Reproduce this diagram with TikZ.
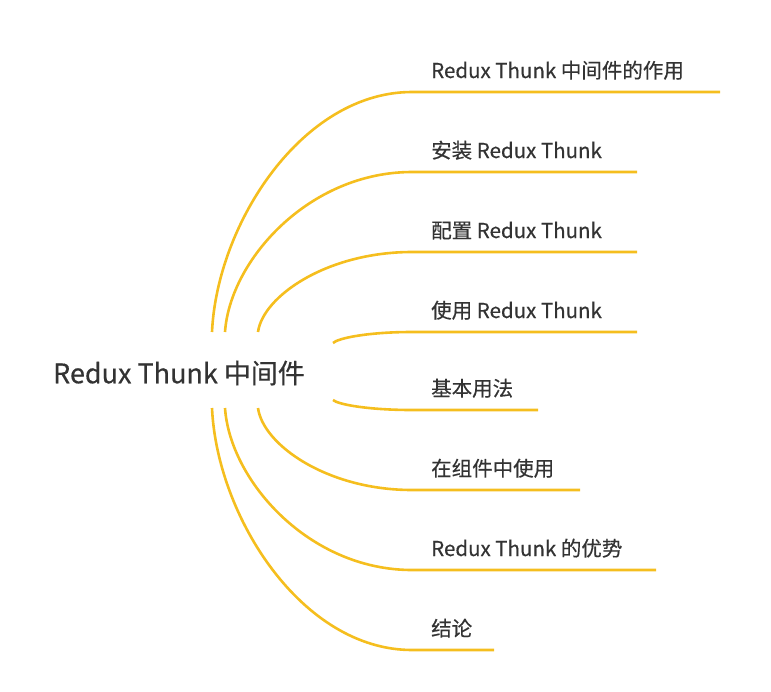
\documentclass[tikz,border=0pt]{standalone}
\usepackage{fontspec}
\setmainfont{Noto Sans CJK SC}[FakeBold=0.4]
\definecolor{br}{HTML}{F5BE1E}
\definecolor{tx}{HTML}{333333}
\begin{document}
\begin{tikzpicture}[x=1pt,y=-1pt,
  br/.style={draw=br,line width=2.6pt},
  lab/.style={anchor=base west,text=tx,font=\fontsize{20.5}{24}\selectfont,inner sep=0pt}]
\useasboundingbox (0,0) rectangle (771,691);
\node[text=tx,font=\fontsize{27}{32}\selectfont,inner sep=0pt] (root) at (179,373) {Redux Thunk 中间件};
\foreach \i/\y/\xe/\xs/\ys/\t in {
 a/92/720/212/332/{Redux Thunk 中间件的作用},
 b/172/637/225/332/{安装 Redux Thunk},
 c/252/637/258/332/{配置 Redux Thunk},
 d/332/637/333/343/{使用 Redux Thunk},
 e/410/538/333/400/{基本用法},
 f/490/580/258/408/{在组件中使用},
 g/570/656/225/408/{Redux Thunk 的优势},
 h/650/494/212/408/{结论}}{
  \coordinate (s\i) at (\xs,\ys);
  \coordinate (l\i) at (412,\y);
  \coordinate (e\i) at (\xe,\y);
  \node[lab] (t\i) at (431,\y-14) {\t};
  \pgfmathsetmacro{\cya}{\ys+(\y-\ys)*0.45}
  \pgfmathsetmacro{\cxb}{\xs+(412-\xs)*0.45}
  \draw[br] (s\i) .. controls (\xs+5,\cya) and (\cxb,\y) .. (l\i) -- (e\i);
}
\end{tikzpicture}
\end{document}
